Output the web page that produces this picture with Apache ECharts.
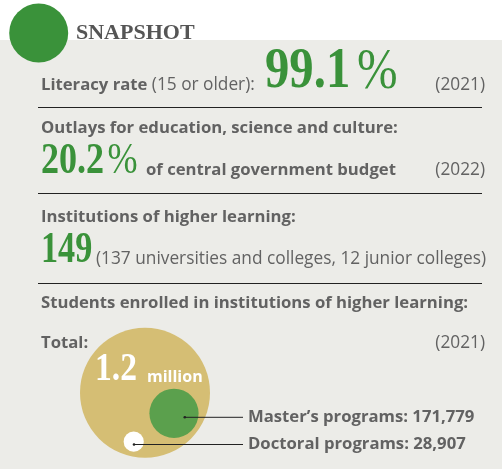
<!DOCTYPE html>
<html>
<head>
<meta charset="utf-8">
<script src="https://cdn.jsdelivr.net/npm/echarts@6/dist/echarts.min.js"></script>
<style>html,body{margin:0;padding:0;background:#fff;}#c{width:502px;height:469px;}</style>
</head>
<body>
<div id="c"></div>
<script>
// ---- data ----
const headlineLabels = ['Literacy rate', 'Outlays for education, science and culture', 'Institutions of higher learning'];
const headlineValues = [99.1, 20.2, 149];
const headlineYears = ['2021', '2022'];
const institutionParts = [137, 12];
const categories = ['Total', 'Master’s programs', 'Doctoral programs'];
const enrolled = [1200000, 171779, 28907];
const enrolledYear = '2021';

// ---- styling ----
const SANS = 'Open Sans';
const SERIF = 'Liberation Serif';
const GREY = '#626262';
const GREEN = '#3A923A';
const bubbleColors = ['#D5BE74', '#5BA04D', '#FFFFFF'];
const fmt = n => n.toLocaleString('en-US');
const BOLD = 'bold 16.7px ' + SANS;
const REG = '17.3px ' + SANS;

const chart = echarts.init(document.getElementById('c'), null, {renderer: 'canvas'});

function txt(x, y, text, opt) {
  opt = opt || {};
  const s = {
    text: text,
    fill: opt.fill || GREY,
    font: opt.font || BOLD,
    align: opt.align || 'left', textAlign: opt.align || 'left',
    verticalAlign: 'middle', textVerticalAlign: 'middle'
  };
  if (opt.rich) s.rich = opt.rich;
  const el = {type: 'text', x: x, y: y, z: opt.z || 5, style: s};
  if (opt.scaleX) { el.scaleX = opt.scaleX; }
  return el;
}
function hline(y) {
  return {type: 'line', z: 5, shape: {x1: 38, y1: y, x2: 482, y2: y}, style: {stroke: '#222', lineWidth: 1}};
}
function pctRich(size, gap) {
  return {
    d: {fontFamily: SERIF, fontWeight: 'bold', fontSize: size, fill: GREEN, color: GREEN},
    p: {fontFamily: SERIF, fontWeight: 'normal', fontSize: size, fill: GREEN, color: GREEN, padding: [0, 0, 0, gap]}
  };
}
const rich = {
  b: {fontFamily: SANS, fontWeight: 'bold', fontSize: 16.7, fill: GREY, color: GREY},
  r: {fontFamily: SANS, fontWeight: 'normal', fontSize: 17.3, fill: GREY, color: GREY}
};

const total = enrolled[0];
const bubbleDiam = 130;
const bubblePos = [[145, 392.7], [174, 413.3], [133.7, 441.7]];

const option = {
  animation: false,
  grid: {left: 0, right: 0, top: 0, bottom: 0},
  xAxis: {type: 'value', min: 0, max: 502, show: false},
  yAxis: {type: 'value', min: 0, max: 469, inverse: true, show: false},
  series: [{
    type: 'scatter',
    z: 3,
    symbol: 'circle',
    data: enrolled.map((v, i) => ({
      name: categories[i],
      value: bubblePos[i],
      symbolSize: bubbleDiam * Math.sqrt(v / total),
      itemStyle: {color: bubbleColors[i], opacity: 1}
    })),
    emphasis: {disabled: true}
  }],
  graphic: [
    {type: 'rect', z: 0, shape: {x: 0, y: 40, width: 502, height: 429}, style: {fill: '#ECECE8'}},
    {type: 'circle', z: 5, shape: {cx: 38.7, cy: 33, r: 29.5}, style: {fill: GREEN}},
    txt(76, 33, 'SNAPSHOT', {font: 'bold 22px ' + SERIF, fill: '#555'}),

    // row 1
    txt(41, 85.5, '{b|' + headlineLabels[0] + '} {r|(15 or older):}', {rich: rich}),
    txt(265, 72.5, '{d|' + headlineValues[0].toFixed(1) + '}{p|%}', {font: 'bold 58px ' + SERIF, fill: GREEN, scaleX: 0.84, rich: pctRich(58, 8)}),
    txt(485, 85.5, '(' + headlineYears[0] + ')', {font: REG, align: 'right'}),
    hline(107.5),

    // row 2
    txt(41, 128.5, headlineLabels[1] + ':', {}),
    txt(41, 161.3, '{d|' + headlineValues[1].toFixed(1) + '}{p|%}', {font: 'bold 44px ' + SERIF, fill: GREEN, scaleX: 0.82, rich: pctRich(44, 4)}),
    txt(146, 170.5, 'of central government budget', {}),
    txt(485, 170.5, '(' + headlineYears[1] + ')', {font: REG, align: 'right'}),
    hline(193.5),

    // row 3
    txt(41, 217.5, headlineLabels[2] + ':', {}),
    txt(41, 250, String(headlineValues[2]), {font: 'bold 45px ' + SERIF, fill: GREEN, scaleX: 0.76}),
    txt(96, 259.5, '(' + institutionParts[0] + ' universities and colleges, ' + institutionParts[1] + ' junior colleges)', {font: REG}),
    hline(283.5),

    // row 4
    txt(41, 303, 'Students enrolled in institutions of higher learning:', {}),
    txt(41, 343.5, categories[0] + ':', {}),
    txt(485, 343.5, '(' + enrolledYear + ')', {font: REG, align: 'right'}),

    // bubble labels
    txt(95, 370, (enrolled[0] / 1e6).toFixed(1), {font: 'bold 39px ' + SERIF, fill: '#fff', scaleX: 0.86, z: 10}),
    txt(147, 377, 'million', {font: 'bold 16px ' + SANS, fill: '#fff', z: 10}),

    {type: 'line', z: 10, shape: {x1: 184.3, y1: 417.3, x2: 243, y2: 417.3}, style: {stroke: '#222', lineWidth: 1}},
    {type: 'circle', z: 10, shape: {cx: 184.8, cy: 417.3, r: 1.3}, style: {fill: '#222'}},
    txt(248, 417, categories[1] + ': ' + fmt(enrolled[1]), {}),
    {type: 'line', z: 10, shape: {x1: 133.5, y1: 444.5, x2: 243, y2: 444.5}, style: {stroke: '#222', lineWidth: 1}},
    {type: 'circle', z: 10, shape: {cx: 134, cy: 444.5, r: 1.3}, style: {fill: '#222'}},
    txt(248, 444, categories[2] + ': ' + fmt(enrolled[2]), {})
  ]
};
chart.setOption(option);
</script>
</body>
</html>
